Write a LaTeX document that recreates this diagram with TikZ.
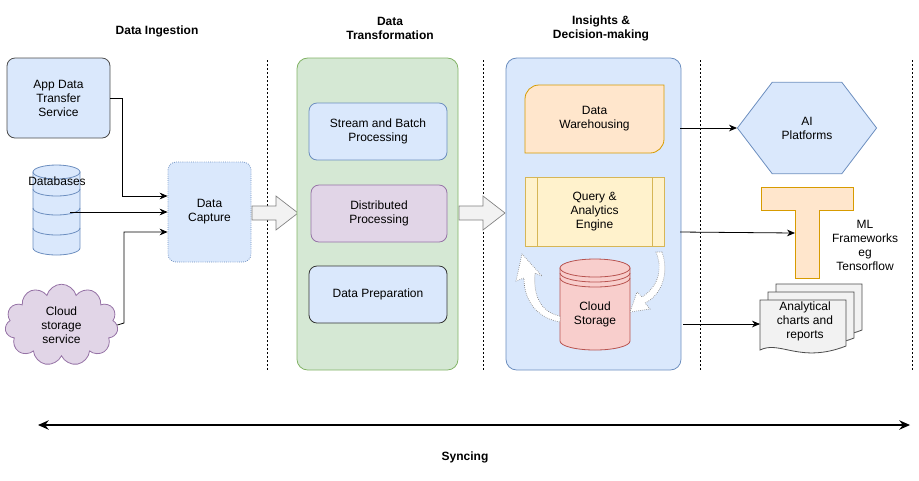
\documentclass[tikz,border=0pt]{standalone}
\usepackage{fontspec}
\setmainfont{Liberation Sans}
\usetikzlibrary{shapes.geometric,shapes.symbols,arrows.meta}
\definecolor{bfill}{HTML}{DAE8FC}\definecolor{bline}{HTML}{6C8EBF}
\definecolor{gfill}{HTML}{D5E8D4}\definecolor{gline}{HTML}{82B366}
\definecolor{pfill}{HTML}{E1D5E7}\definecolor{pline}{HTML}{9673A6}
\definecolor{ofill}{HTML}{FFE6CC}\definecolor{oline}{HTML}{D79B00}
\definecolor{yfill}{HTML}{FFF2CC}\definecolor{yline}{HTML}{D6B656}
\definecolor{rfill}{HTML}{F8CECC}\definecolor{rline}{HTML}{B85450}
\tikzset{
 txt/.style={font=\fontsize{9}{10.5}\selectfont,align=center},
 ttl/.style={font=\bfseries\fontsize{9}{10.5}\selectfont,align=center},
 box/.style={draw,rounded corners=6pt,line width=0.6pt,txt},
 conn/.style={-{Stealth[length=6pt,width=5pt]},line width=0.6pt},
 sep/.style={dashed,dash pattern=on 1.5pt off 1.5pt,line width=0.7pt},
 blk/.style={draw=gray,fill=gray!10,line width=0.5pt},
 wht/.style={draw=gray,densely dotted,fill=white,line width=0.5pt},
}
\begin{document}
\begin{tikzpicture}[x=0.75pt,y=-0.75pt]
\useasboundingbox (0,0) rectangle (919,480);
% titles
\node[ttl] (t1) at (157,31) {Data Ingestion};
\node[ttl] (t2) at (390,28) {Data\\Transformation};
\node[ttl] (t3) at (601,28) {Insights \&\\Decision-making};
% separators
\foreach \x/\n in {267/a,483/b,700/c,912/d}{\draw[sep] (\x,60) coordinate (s\n1) -- (\x,370) coordinate (s\n2);}
% ingestion
\node[box,fill=bfill,draw=black!70,minimum width=103*0.75pt,minimum height=80*0.75pt] (app) at (58.5,98) {App Data\\Transfer\\Service};
% database cylinder
\begin{scope}[draw=bline,fill=bfill,line width=0.6pt]
\filldraw (33,172) -- (33,248) arc[start angle=180,end angle=360,x radius=23.5*0.75pt,y radius=7*0.75pt] -- (80,172) -- cycle;
\filldraw (56.5,172) ellipse[x radius=23.5*0.75pt,y radius=7*0.75pt];
\foreach \y in {189,208,228}{\draw (33,\y) arc[start angle=180,end angle=360,x radius=23.5*0.75pt,y radius=7*0.75pt];}
\end{scope}
\node[txt] (db) at (57,181) {Databases};
\coordinate (dbc) at (70,212);
\node[cloud,draw=pline,fill=pfill,cloud puffs=11,aspect=1.4,minimum width=113*0.75pt,minimum height=80*0.75pt,txt,line width=0.6pt] (cl) at (61.5,325) {Cloud\\storage\\service};
\node[box,fill=bfill,draw=bline,densely dotted,minimum width=83*0.75pt,minimum height=100*0.75pt] (cap) at (209.5,212) {Data\\Capture};
\draw[conn] (app.east) -- (122,98) |- (cap.west|-0,196);
\draw[conn] (dbc) -- (cap.west|-0,212);
\draw[conn] (cl.east) -- (124,323) |- (cap.west|-0,232);
% block arrows
\foreach \a/\b in {252/298,459/505}{
 \draw[blk] (\a,206) -- (\b-22,206) -- (\b-22,196) -- (\b,213) -- (\b-22,230) -- (\b-22,220) -- (\a,220) -- cycle;}
% transformation
\node[draw=gline,fill=gfill,rounded corners=8pt,line width=0.6pt,minimum width=161*0.75pt,minimum height=312*0.75pt] (tr) at (377.5,214) {};
\node[box,fill=bfill,draw=bline,minimum width=138*0.75pt,minimum height=57*0.75pt] (sb) at (378,131.5) {Stream and Batch\\Processing};
\node[box,fill=pfill,draw=pline,minimum width=136*0.75pt,minimum height=57*0.75pt] (dp) at (379,213.5) {Distributed\\Processing};
\node[box,fill=bfill,draw=black!80,minimum width=138*0.75pt,minimum height=57*0.75pt] (prep) at (378,294.5) {Data Preparation};
% insights
\node[draw=bline,fill=bfill,rounded corners=8pt,line width=0.6pt,minimum width=175*0.75pt,minimum height=312*0.75pt] (ins) at (593.5,214) {};
\filldraw[draw=oline,fill=ofill,line width=0.6pt] (525,153) -- (525,99) arc[start angle=180,end angle=90,radius=14*0.75pt] -- (664,85) -- (664,139) arc[start angle=0,end angle=-90,radius=14*0.75pt] -- cycle;
\node[txt] (dw) at (594.5,119) {Data\\Warehousing};
\node[draw=yline,fill=yfill,line width=0.6pt,minimum width=139*0.75pt,minimum height=69*0.75pt,txt] (qa) at (594.5,211.5) {Query \&\\Analytics\\Engine};
\draw[yline,line width=0.6pt] (537,177) -- (537,246) (652,177) -- (652,246);
% cloud storage cylinder
\begin{scope}[draw=rline,fill=rfill,line width=0.6pt]
\filldraw (560,268) -- (560,341) arc[start angle=180,end angle=360,x radius=35*0.75pt,y radius=9*0.75pt] -- (630,268) -- cycle;
\filldraw (595,268) ellipse[x radius=35*0.75pt,y radius=9*0.75pt];
\draw (560,273) arc[start angle=180,end angle=360,x radius=35*0.75pt,y radius=9*0.75pt] (560,278) arc[start angle=180,end angle=360,x radius=35*0.75pt,y radius=9*0.75pt];
\end{scope}
\node[txt] (cs) at (595,314) {Cloud\\Storage};
% curved white arrows
\draw[wht] (560,316) .. controls (540,312) and (533,295) .. (535,273) -- (542,276) -- (522,254) -- (516,281) -- (524,278) .. controls (524,302) and (538,318) .. (560,322) -- cycle;
\draw[wht] (662,252) .. controls (670,275) and (660,296) .. (645,303) -- (650,309) -- (630,312) -- (637,292) -- (642,297) .. controls (656,288) and (664,272) .. (656,252) -- cycle;
% outputs
\node[regular polygon,regular polygon sides=6,shape border rotate=0,draw=bline,fill=bfill,minimum width=160*0.75pt,inner sep=0pt,line width=0.6pt,txt,yscale=0.66,xscale=0.87] (ai) at (807,128) {};
\node[txt] (ait) at (807,128) {AI\\Platforms};
\filldraw[draw=oline,fill=ofill,line width=0.6pt] (761,187) -- (853,187) -- (853,210) -- (819,210) -- (819,278) -- (795,278) -- (795,210) -- (761,210) -- cycle;
\coordinate (ml) at (795,233);
\node[txt] (mlt) at (865,245) {ML\\Frameworks\\eg\\Tensorflow};
\foreach \d in {16,8,0}{
 \filldraw[draw=black!70,fill=black!5,line width=0.6pt] (760+\d,300-\d) -- (760+\d,350-\d) .. controls (780+\d,340-\d) and (800+\d,364-\d) .. (846+\d,346-\d) -- (846+\d,300-\d) -- cycle;}
\node[txt] (rep) at (805,321) {Analytical\\charts and\\reports};
\draw[conn] (680,128) -- (ai.west);
\draw[conn] (680,232) -- (ml);
\draw[conn] (683,324) -- (760,324);
% syncing
\coordinate (sl) at (38,425); \coordinate (sr) at (910,425);
\draw[{Stealth[length=8pt,width=7pt]}-{Stealth[length=8pt,width=7pt]},line width=1.2pt] (sl) -- (sr);
\node[ttl] (sy) at (465,457) {Syncing};
\end{tikzpicture}
\end{document}
